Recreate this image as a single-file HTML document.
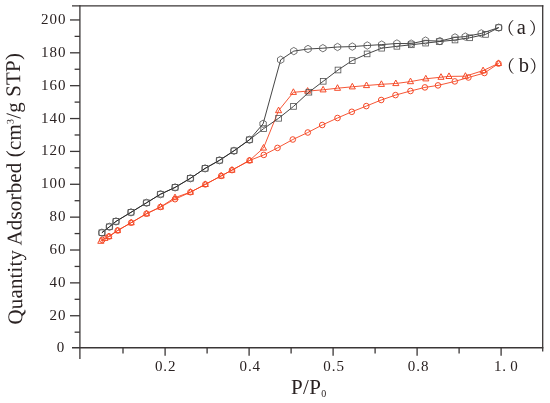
<!DOCTYPE html>
<html><head><meta charset="utf-8"><title>Isotherm</title>
<style>html,body{margin:0;padding:0;background:#fff}svg{display:block}</style>
</head><body>
<svg width="550" height="403" viewBox="0 0 550 403">
<rect width="550" height="403" fill="#ffffff"/>
<g stroke="#3a3636" stroke-width="1.3" fill="none">
<line x1="72" y1="5.85" x2="543.35" y2="5.85"/>
<line x1="79.9" y1="5.199999999999999" x2="79.9" y2="359"/>
<line x1="72" y1="347.75" x2="543.35" y2="347.75"/>
<line x1="542.7" y1="5.199999999999999" x2="542.7" y2="351.6"/>
<line x1="74.6" y1="332.17" x2="79.9" y2="332.17"/>
<line x1="70" y1="315.74" x2="79.9" y2="315.74"/>
<line x1="74.6" y1="299.30" x2="79.9" y2="299.30"/>
<line x1="70" y1="282.87" x2="79.9" y2="282.87"/>
<line x1="74.6" y1="266.44" x2="79.9" y2="266.44"/>
<line x1="70" y1="250.01" x2="79.9" y2="250.01"/>
<line x1="74.6" y1="233.57" x2="79.9" y2="233.57"/>
<line x1="70" y1="217.14" x2="79.9" y2="217.14"/>
<line x1="74.6" y1="200.71" x2="79.9" y2="200.71"/>
<line x1="70" y1="184.28" x2="79.9" y2="184.28"/>
<line x1="74.6" y1="167.84" x2="79.9" y2="167.84"/>
<line x1="70" y1="151.41" x2="79.9" y2="151.41"/>
<line x1="74.6" y1="134.98" x2="79.9" y2="134.98"/>
<line x1="70" y1="118.55" x2="79.9" y2="118.55"/>
<line x1="74.6" y1="102.11" x2="79.9" y2="102.11"/>
<line x1="70" y1="85.68" x2="79.9" y2="85.68"/>
<line x1="74.6" y1="69.25" x2="79.9" y2="69.25"/>
<line x1="70" y1="52.81" x2="79.9" y2="52.81"/>
<line x1="74.6" y1="36.38" x2="79.9" y2="36.38"/>
<line x1="70" y1="19.95" x2="79.9" y2="19.95"/>
<line x1="123.0" y1="347.75" x2="123.0" y2="353.5"/>
<line x1="165.1" y1="347.75" x2="165.1" y2="355.8"/>
<line x1="207.1" y1="347.75" x2="207.1" y2="353.5"/>
<line x1="249.1" y1="347.75" x2="249.1" y2="355.8"/>
<line x1="291.1" y1="347.75" x2="291.1" y2="353.5"/>
<line x1="333.1" y1="347.75" x2="333.1" y2="355.8"/>
<line x1="375.1" y1="347.75" x2="375.1" y2="353.5"/>
<line x1="417.1" y1="347.75" x2="417.1" y2="355.8"/>
<line x1="459.1" y1="347.75" x2="459.1" y2="353.5"/>
<line x1="501.1" y1="347.75" x2="501.1" y2="355.8"/>
</g>
<g font-family="'Liberation Serif', serif" font-size="15" fill="#2a2222" letter-spacing="1.05">
<text x="65.4" y="351.7" text-anchor="end">0</text>
<text x="66.6" y="319.7" text-anchor="end">20</text>
<text x="66.6" y="286.9" text-anchor="end">40</text>
<text x="66.6" y="254.0" text-anchor="end">60</text>
<text x="66.6" y="221.1" text-anchor="end">80</text>
<text x="66.6" y="188.3" text-anchor="end">100</text>
<text x="66.6" y="155.4" text-anchor="end">120</text>
<text x="66.6" y="122.5" text-anchor="end">140</text>
<text x="66.6" y="89.7" text-anchor="end">160</text>
<text x="66.6" y="56.8" text-anchor="end">180</text>
<text x="66.6" y="23.9" text-anchor="end">200</text>
<text x="165.7" y="370.8" text-anchor="middle" letter-spacing="0.9">0.2</text>
<text x="250.3" y="370.8" text-anchor="middle" letter-spacing="0.9">0.4</text>
<text x="334.1" y="370.8" text-anchor="middle" letter-spacing="0.9">0.5</text>
<text x="418.6" y="370.8" text-anchor="middle" letter-spacing="0.9">0.8</text>
<text x="493.9" y="370.8" letter-spacing="0.9">1.<tspan dx="3.3">0</tspan></text>
</g>
<text x="291.1" y="394" font-family="'Liberation Serif', serif" font-size="21" fill="#2a2222" letter-spacing="0.3">P/P<tspan font-size="10" dy="3">0</tspan></text>
<text transform="translate(22.3,324.5) rotate(-90.5)" font-family="'Liberation Serif', serif" font-size="21" fill="#2a2222" letter-spacing="0.16">Quantity Adsorbed (cm<tspan font-size="10" dy="-7">3</tspan><tspan dy="7">/g STP)</tspan></text>
<g fill="#2a2222"><text x="497.4" y="34.7" font-family="'Liberation Serif', 'Noto Serif CJK SC', serif" font-size="17">（</text><text x="516.8" y="34.1" font-family="'Liberation Serif', serif" font-size="20.5">a</text><text x="529.1" y="34.7" font-family="'Liberation Serif', 'Noto Serif CJK SC', serif" font-size="17">）</text></g>
<g fill="#2a2222"><text x="497.8" y="73.0" font-family="'Liberation Serif', 'Noto Serif CJK SC', serif" font-size="17">（</text><text x="518.7" y="72.1" font-family="'Liberation Serif', serif" font-size="20.5">b</text><text x="529.6" y="73.0" font-family="'Liberation Serif', 'Noto Serif CJK SC', serif" font-size="17">）</text></g>
<polyline fill="none" stroke="#f5431f" stroke-width="0.9" points="100.8,241.2 104.9,238.3 108.9,236.5 117.5,230.5 131.2,222.7 146.5,213.7 160.5,207.0 175.0,197.6 190.4,192.2 205.3,184.4 221.2,175.9 232.0,170.1 249.5,160.5 263.5,148.0 278.6,110.6 293.4,92.3 307.6,91.1 323.1,89.8 337.5,88.2 352.3,86.8 366.5,85.5 381.4,84.3 395.8,83.5 410.5,81.6 425.8,78.8 441.0,77.2 449.0,76.4 465.4,76.2 483.1,70.6 498.5,63.4"/>
<polyline fill="none" stroke="#f5431f" stroke-width="0.9" points="102.3,239.9 108.9,236.5 117.7,230.5 131.2,222.7 146.5,213.7 160.5,207.0 175.0,199.2 190.4,192.2 205.3,184.4 221.2,175.9 232.0,170.1 249.5,160.5 263.8,154.9 277.5,147.9 292.8,139.5 307.8,132.5 322.2,125.0 337.5,118.0 351.8,111.8 366.3,106.1 381.2,100.0 395.5,95.1 410.5,91.0 424.9,87.4 438.0,85.4 454.8,81.4 468.4,77.5 484.4,73.0 498.5,63.6"/>
<polygon fill="none" stroke="#f54a28" stroke-width="1" points="100.80,237.70 97.75,243.30 103.85,243.30"/>
<polygon fill="none" stroke="#f54a28" stroke-width="1" points="104.90,234.80 101.85,240.40 107.95,240.40"/>
<polygon fill="none" stroke="#f54a28" stroke-width="1" points="108.90,233.00 105.85,238.60 111.95,238.60"/>
<polygon fill="none" stroke="#f54a28" stroke-width="1" points="117.50,227.00 114.45,232.60 120.55,232.60"/>
<polygon fill="none" stroke="#f54a28" stroke-width="1" points="131.20,219.20 128.15,224.80 134.25,224.80"/>
<polygon fill="none" stroke="#f54a28" stroke-width="1" points="146.50,210.20 143.45,215.80 149.55,215.80"/>
<polygon fill="none" stroke="#f54a28" stroke-width="1" points="160.50,203.50 157.45,209.10 163.55,209.10"/>
<polygon fill="none" stroke="#f54a28" stroke-width="1" points="175.00,194.10 171.95,199.70 178.05,199.70"/>
<polygon fill="none" stroke="#f54a28" stroke-width="1" points="190.40,188.70 187.35,194.30 193.45,194.30"/>
<polygon fill="none" stroke="#f54a28" stroke-width="1" points="205.30,180.90 202.25,186.50 208.35,186.50"/>
<polygon fill="none" stroke="#f54a28" stroke-width="1" points="221.20,172.40 218.15,178.00 224.25,178.00"/>
<polygon fill="none" stroke="#f54a28" stroke-width="1" points="232.00,166.60 228.95,172.20 235.05,172.20"/>
<polygon fill="none" stroke="#f54a28" stroke-width="1" points="249.50,157.00 246.45,162.60 252.55,162.60"/>
<polygon fill="none" stroke="#f54a28" stroke-width="1" points="263.50,144.50 260.45,150.10 266.55,150.10"/>
<polygon fill="none" stroke="#f54a28" stroke-width="1" points="278.60,107.10 275.55,112.70 281.65,112.70"/>
<polygon fill="none" stroke="#f54a28" stroke-width="1" points="293.40,88.80 290.35,94.40 296.45,94.40"/>
<polygon fill="none" stroke="#f54a28" stroke-width="1" points="307.60,87.60 304.55,93.20 310.65,93.20"/>
<polygon fill="none" stroke="#f54a28" stroke-width="1" points="323.10,86.30 320.05,91.90 326.15,91.90"/>
<polygon fill="none" stroke="#f54a28" stroke-width="1" points="337.50,84.70 334.45,90.30 340.55,90.30"/>
<polygon fill="none" stroke="#f54a28" stroke-width="1" points="352.30,83.30 349.25,88.90 355.35,88.90"/>
<polygon fill="none" stroke="#f54a28" stroke-width="1" points="366.50,82.00 363.45,87.60 369.55,87.60"/>
<polygon fill="none" stroke="#f54a28" stroke-width="1" points="381.40,80.80 378.35,86.40 384.45,86.40"/>
<polygon fill="none" stroke="#f54a28" stroke-width="1" points="395.80,80.00 392.75,85.60 398.85,85.60"/>
<polygon fill="none" stroke="#f54a28" stroke-width="1" points="410.50,78.10 407.45,83.70 413.55,83.70"/>
<polygon fill="none" stroke="#f54a28" stroke-width="1" points="425.80,75.30 422.75,80.90 428.85,80.90"/>
<polygon fill="none" stroke="#f54a28" stroke-width="1" points="441.00,73.70 437.95,79.30 444.05,79.30"/>
<polygon fill="none" stroke="#f54a28" stroke-width="1" points="449.00,72.90 445.95,78.50 452.05,78.50"/>
<polygon fill="none" stroke="#f54a28" stroke-width="1" points="465.40,72.70 462.35,78.30 468.45,78.30"/>
<polygon fill="none" stroke="#f54a28" stroke-width="1" points="483.10,67.10 480.05,72.70 486.15,72.70"/>
<polygon fill="none" stroke="#f54a28" stroke-width="1" points="498.50,59.90 495.45,65.50 501.55,65.50"/>
<circle fill="none" stroke="#f54a28" stroke-width="1" cx="102.30" cy="239.90" r="2.80"/>
<circle fill="none" stroke="#f54a28" stroke-width="1" cx="108.90" cy="236.50" r="2.80"/>
<circle fill="none" stroke="#f54a28" stroke-width="1" cx="117.70" cy="230.50" r="2.80"/>
<circle fill="none" stroke="#f54a28" stroke-width="1" cx="131.20" cy="222.70" r="2.80"/>
<circle fill="none" stroke="#f54a28" stroke-width="1" cx="146.50" cy="213.70" r="2.80"/>
<circle fill="none" stroke="#f54a28" stroke-width="1" cx="160.50" cy="207.00" r="2.80"/>
<circle fill="none" stroke="#f54a28" stroke-width="1" cx="175.00" cy="199.20" r="2.80"/>
<circle fill="none" stroke="#f54a28" stroke-width="1" cx="190.40" cy="192.20" r="2.80"/>
<circle fill="none" stroke="#f54a28" stroke-width="1" cx="205.30" cy="184.40" r="2.80"/>
<circle fill="none" stroke="#f54a28" stroke-width="1" cx="221.20" cy="175.90" r="2.80"/>
<circle fill="none" stroke="#f54a28" stroke-width="1" cx="232.00" cy="170.10" r="2.80"/>
<circle fill="none" stroke="#f54a28" stroke-width="1" cx="249.50" cy="160.50" r="2.80"/>
<circle fill="none" stroke="#f54a28" stroke-width="1" cx="263.80" cy="154.90" r="2.80"/>
<circle fill="none" stroke="#f54a28" stroke-width="1" cx="277.50" cy="147.90" r="2.80"/>
<circle fill="none" stroke="#f54a28" stroke-width="1" cx="292.80" cy="139.50" r="2.80"/>
<circle fill="none" stroke="#f54a28" stroke-width="1" cx="307.80" cy="132.50" r="2.80"/>
<circle fill="none" stroke="#f54a28" stroke-width="1" cx="322.20" cy="125.00" r="2.80"/>
<circle fill="none" stroke="#f54a28" stroke-width="1" cx="337.50" cy="118.00" r="2.80"/>
<circle fill="none" stroke="#f54a28" stroke-width="1" cx="351.80" cy="111.80" r="2.80"/>
<circle fill="none" stroke="#f54a28" stroke-width="1" cx="366.30" cy="106.10" r="2.80"/>
<circle fill="none" stroke="#f54a28" stroke-width="1" cx="381.20" cy="100.00" r="2.80"/>
<circle fill="none" stroke="#f54a28" stroke-width="1" cx="395.50" cy="95.10" r="2.80"/>
<circle fill="none" stroke="#f54a28" stroke-width="1" cx="410.50" cy="91.00" r="2.80"/>
<circle fill="none" stroke="#f54a28" stroke-width="1" cx="424.90" cy="87.40" r="2.80"/>
<circle fill="none" stroke="#f54a28" stroke-width="1" cx="438.00" cy="85.40" r="2.80"/>
<circle fill="none" stroke="#f54a28" stroke-width="1" cx="454.80" cy="81.40" r="2.80"/>
<circle fill="none" stroke="#f54a28" stroke-width="1" cx="468.40" cy="77.50" r="2.80"/>
<circle fill="none" stroke="#f54a28" stroke-width="1" cx="484.40" cy="73.00" r="2.80"/>
<circle fill="none" stroke="#f54a28" stroke-width="1" cx="498.50" cy="63.60" r="2.80"/>
<polyline fill="none" stroke="#242424" stroke-width="0.85" points="101.9,232.7 109.4,226.8 116.0,221.4 131.0,212.3 146.5,202.8 160.5,194.2 175.1,187.4 190.4,178.3 205.1,168.4 219.5,160.3 234.0,150.8 249.4,139.8 263.1,123.8 280.7,59.8 293.8,51.1 308.0,49.0 322.9,48.2 337.5,47.0 352.3,46.6 367.3,45.5 381.7,44.6 396.9,43.5 411.2,43.6 425.5,40.6 439.9,41.1 455.0,37.4 465.3,36.6 481.3,33.4 498.7,27.6"/>
<polyline fill="none" stroke="#242424" stroke-width="0.85" points="101.9,232.7 109.4,226.8 116.0,221.4 131.0,212.3 146.5,202.8 160.5,194.2 175.1,187.4 190.4,178.3 205.1,168.4 219.5,160.3 234.0,150.8 249.4,139.8 263.7,128.6 278.6,118.3 293.5,106.4 308.9,92.2 323.2,81.3 338.0,70.0 352.2,60.6 367.1,53.9 381.7,48.2 396.9,46.3 411.3,44.8 425.6,43.1 439.2,41.6 455.0,40.0 469.6,37.8 485.5,34.4 498.7,27.6"/>
<polygon fill="none" stroke="#505050" stroke-width="0.8" points="105.10,234.55 101.90,236.40 98.70,234.55 98.70,230.85 101.90,229.00 105.10,230.85"/>
<polygon fill="none" stroke="#505050" stroke-width="0.8" points="112.60,228.65 109.40,230.50 106.20,228.65 106.20,224.95 109.40,223.10 112.60,224.95"/>
<polygon fill="none" stroke="#505050" stroke-width="0.8" points="119.20,223.25 116.00,225.10 112.80,223.25 112.80,219.55 116.00,217.70 119.20,219.55"/>
<polygon fill="none" stroke="#505050" stroke-width="0.8" points="134.20,214.15 131.00,216.00 127.80,214.15 127.80,210.45 131.00,208.60 134.20,210.45"/>
<polygon fill="none" stroke="#505050" stroke-width="0.8" points="149.70,204.65 146.50,206.50 143.30,204.65 143.30,200.95 146.50,199.10 149.70,200.95"/>
<polygon fill="none" stroke="#505050" stroke-width="0.8" points="163.70,196.05 160.50,197.90 157.30,196.05 157.30,192.35 160.50,190.50 163.70,192.35"/>
<polygon fill="none" stroke="#505050" stroke-width="0.8" points="178.30,189.25 175.10,191.10 171.90,189.25 171.90,185.55 175.10,183.70 178.30,185.55"/>
<polygon fill="none" stroke="#505050" stroke-width="0.8" points="193.60,180.15 190.40,182.00 187.20,180.15 187.20,176.45 190.40,174.60 193.60,176.45"/>
<polygon fill="none" stroke="#505050" stroke-width="0.8" points="208.30,170.25 205.10,172.10 201.90,170.25 201.90,166.55 205.10,164.70 208.30,166.55"/>
<polygon fill="none" stroke="#505050" stroke-width="0.8" points="222.70,162.15 219.50,164.00 216.30,162.15 216.30,158.45 219.50,156.60 222.70,158.45"/>
<polygon fill="none" stroke="#505050" stroke-width="0.8" points="237.20,152.65 234.00,154.50 230.80,152.65 230.80,148.95 234.00,147.10 237.20,148.95"/>
<polygon fill="none" stroke="#505050" stroke-width="0.8" points="252.60,141.65 249.40,143.50 246.20,141.65 246.20,137.95 249.40,136.10 252.60,137.95"/>
<polygon fill="none" stroke="#505050" stroke-width="0.8" points="266.30,125.65 263.10,127.50 259.90,125.65 259.90,121.95 263.10,120.10 266.30,121.95"/>
<polygon fill="none" stroke="#505050" stroke-width="0.8" points="283.90,61.65 280.70,63.50 277.50,61.65 277.50,57.95 280.70,56.10 283.90,57.95"/>
<polygon fill="none" stroke="#505050" stroke-width="0.8" points="297.00,52.95 293.80,54.80 290.60,52.95 290.60,49.25 293.80,47.40 297.00,49.25"/>
<polygon fill="none" stroke="#505050" stroke-width="0.8" points="311.20,50.85 308.00,52.70 304.80,50.85 304.80,47.15 308.00,45.30 311.20,47.15"/>
<polygon fill="none" stroke="#505050" stroke-width="0.8" points="326.10,50.05 322.90,51.90 319.70,50.05 319.70,46.35 322.90,44.50 326.10,46.35"/>
<polygon fill="none" stroke="#505050" stroke-width="0.8" points="340.70,48.85 337.50,50.70 334.30,48.85 334.30,45.15 337.50,43.30 340.70,45.15"/>
<polygon fill="none" stroke="#505050" stroke-width="0.8" points="355.50,48.45 352.30,50.30 349.10,48.45 349.10,44.75 352.30,42.90 355.50,44.75"/>
<polygon fill="none" stroke="#505050" stroke-width="0.8" points="370.50,47.35 367.30,49.20 364.10,47.35 364.10,43.65 367.30,41.80 370.50,43.65"/>
<polygon fill="none" stroke="#505050" stroke-width="0.8" points="384.90,46.45 381.70,48.30 378.50,46.45 378.50,42.75 381.70,40.90 384.90,42.75"/>
<polygon fill="none" stroke="#505050" stroke-width="0.8" points="400.10,45.35 396.90,47.20 393.70,45.35 393.70,41.65 396.90,39.80 400.10,41.65"/>
<polygon fill="none" stroke="#505050" stroke-width="0.8" points="414.40,45.45 411.20,47.30 408.00,45.45 408.00,41.75 411.20,39.90 414.40,41.75"/>
<polygon fill="none" stroke="#505050" stroke-width="0.8" points="428.70,42.45 425.50,44.30 422.30,42.45 422.30,38.75 425.50,36.90 428.70,38.75"/>
<polygon fill="none" stroke="#505050" stroke-width="0.8" points="443.10,42.95 439.90,44.80 436.70,42.95 436.70,39.25 439.90,37.40 443.10,39.25"/>
<polygon fill="none" stroke="#505050" stroke-width="0.8" points="458.20,39.25 455.00,41.10 451.80,39.25 451.80,35.55 455.00,33.70 458.20,35.55"/>
<polygon fill="none" stroke="#505050" stroke-width="0.8" points="468.50,38.45 465.30,40.30 462.10,38.45 462.10,34.75 465.30,32.90 468.50,34.75"/>
<polygon fill="none" stroke="#505050" stroke-width="0.8" points="484.50,35.25 481.30,37.10 478.10,35.25 478.10,31.55 481.30,29.70 484.50,31.55"/>
<polygon fill="none" stroke="#505050" stroke-width="0.8" points="501.90,29.45 498.70,31.30 495.50,29.45 495.50,25.75 498.70,23.90 501.90,25.75"/>
<rect fill="none" stroke="#505050" stroke-width="0.8" x="99.05" y="229.85" width="5.70" height="5.70"/>
<rect fill="none" stroke="#505050" stroke-width="0.8" x="106.55" y="223.95" width="5.70" height="5.70"/>
<rect fill="none" stroke="#505050" stroke-width="0.8" x="113.15" y="218.55" width="5.70" height="5.70"/>
<rect fill="none" stroke="#505050" stroke-width="0.8" x="128.15" y="209.45" width="5.70" height="5.70"/>
<rect fill="none" stroke="#505050" stroke-width="0.8" x="143.65" y="199.95" width="5.70" height="5.70"/>
<rect fill="none" stroke="#505050" stroke-width="0.8" x="157.65" y="191.35" width="5.70" height="5.70"/>
<rect fill="none" stroke="#505050" stroke-width="0.8" x="172.25" y="184.55" width="5.70" height="5.70"/>
<rect fill="none" stroke="#505050" stroke-width="0.8" x="187.55" y="175.45" width="5.70" height="5.70"/>
<rect fill="none" stroke="#505050" stroke-width="0.8" x="202.25" y="165.55" width="5.70" height="5.70"/>
<rect fill="none" stroke="#505050" stroke-width="0.8" x="216.65" y="157.45" width="5.70" height="5.70"/>
<rect fill="none" stroke="#505050" stroke-width="0.8" x="231.15" y="147.95" width="5.70" height="5.70"/>
<rect fill="none" stroke="#505050" stroke-width="0.8" x="246.55" y="136.95" width="5.70" height="5.70"/>
<rect fill="none" stroke="#505050" stroke-width="0.8" x="260.85" y="125.75" width="5.70" height="5.70"/>
<rect fill="none" stroke="#505050" stroke-width="0.8" x="275.75" y="115.45" width="5.70" height="5.70"/>
<rect fill="none" stroke="#505050" stroke-width="0.8" x="290.65" y="103.55" width="5.70" height="5.70"/>
<rect fill="none" stroke="#505050" stroke-width="0.8" x="306.05" y="89.35" width="5.70" height="5.70"/>
<rect fill="none" stroke="#505050" stroke-width="0.8" x="320.35" y="78.45" width="5.70" height="5.70"/>
<rect fill="none" stroke="#505050" stroke-width="0.8" x="335.15" y="67.15" width="5.70" height="5.70"/>
<rect fill="none" stroke="#505050" stroke-width="0.8" x="349.35" y="57.75" width="5.70" height="5.70"/>
<rect fill="none" stroke="#505050" stroke-width="0.8" x="364.25" y="51.05" width="5.70" height="5.70"/>
<rect fill="none" stroke="#505050" stroke-width="0.8" x="378.85" y="45.35" width="5.70" height="5.70"/>
<rect fill="none" stroke="#505050" stroke-width="0.8" x="394.05" y="43.45" width="5.70" height="5.70"/>
<rect fill="none" stroke="#505050" stroke-width="0.8" x="408.45" y="41.95" width="5.70" height="5.70"/>
<rect fill="none" stroke="#505050" stroke-width="0.8" x="422.75" y="40.25" width="5.70" height="5.70"/>
<rect fill="none" stroke="#505050" stroke-width="0.8" x="436.35" y="38.75" width="5.70" height="5.70"/>
<rect fill="none" stroke="#505050" stroke-width="0.8" x="452.15" y="37.15" width="5.70" height="5.70"/>
<rect fill="none" stroke="#505050" stroke-width="0.8" x="466.75" y="34.95" width="5.70" height="5.70"/>
<rect fill="none" stroke="#505050" stroke-width="0.8" x="482.65" y="31.55" width="5.70" height="5.70"/>
<rect fill="none" stroke="#505050" stroke-width="0.8" x="495.85" y="24.75" width="5.70" height="5.70"/>
</svg>
</body></html>
